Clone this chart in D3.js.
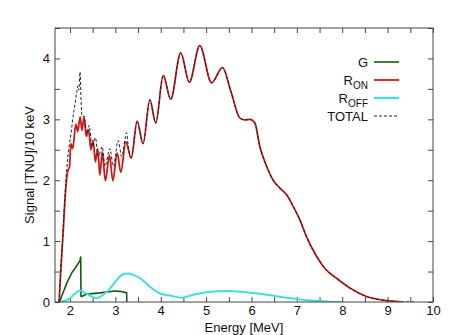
<!DOCTYPE html>
<html><head><meta charset="utf-8">
<script src="https://cdn.jsdelivr.net/npm/d3@7"></script>
<style>
body{margin:0;background:#fff;}
text{font-family:"Liberation Sans",Arial,Helvetica,sans-serif;}
</style></head>
<body><svg id="c" width="474" height="335"></svg>
<script>
// ---- data (energy MeV, signal TNU/10 keV) ----
const gE   = [1.769,1.84,1.93,2.04,2.11,2.22,2.236,2.243,2.26,2.37,2.66,2.99,3.15,3.249,3.252];
const gV   = [0,0.14,0.31,0.48,0.55,0.68,0.74,0.09,0.09,0.13,0.15,0.18,0.17,0.15,0];

const ronE = [1.76,1.80,1.85,1.89,1.93,1.96,1.99,2.02,2.06,2.13,2.17,2.225,2.265,2.31,2.36,2.41,2.46,2.51,2.56,2.61,2.66,2.71,2.78,2.87,2.945,3.04,3.12,3.23,3.35,3.48,3.61,3.76,3.89,4.055,4.22,4.44,4.63,4.86,5.12,5.36,5.55,5.745,5.86,5.965,6.075,6.185,6.333,6.478,6.626,6.774,6.919,7.066,7.214,7.434,7.617,7.875,8.168,8.536,8.9,9.12,9.3];
const ronV = [0,0.55,1.15,1.68,2.05,2.17,2.22,2.6,2.52,2.92,2.8,3.04,2.82,3.03,2.72,2.83,2.5,2.65,2.3,2.52,2.08,2.47,1.99,2.41,1.99,2.45,2.13,2.63,2.36,2.97,2.6,3.32,2.94,3.72,3.33,4.09,3.61,4.21,3.6,3.85,3.45,3.02,2.99,3.0,2.94,2.55,2.23,2.0,1.87,1.76,1.57,1.35,1.07,0.75,0.55,0.39,0.23,0.09,0.03,0.012,0];

const roffE = [1.78,2.0,2.11,2.221,2.331,2.478,2.588,2.734,2.881,3.029,3.174,3.285,3.47,3.652,3.762,3.983,4.24,4.461,4.716,5.011,5.452,5.893,6.333,6.774,7.214,7.655,8.0];
const roffV = [0,0.06,0.14,0.19,0.15,0.09,0.06,0.12,0.22,0.36,0.46,0.47,0.42,0.33,0.25,0.14,0.1,0.07,0.12,0.16,0.18,0.16,0.12,0.07,0.03,0.01,0];

const totE = [1.76,1.80,1.85,1.89,1.93,1.97,2.02,2.07,2.11,2.15,2.175,2.195,2.222,2.245,2.265,2.315,2.368,2.42,2.49,2.56,2.624,2.712,2.771,2.881,2.954,3.064,3.139,3.249,3.27,3.35,3.48,3.61,3.76,3.89,4.055,4.22,4.44,4.63,4.86,5.12,5.36,5.55,5.745,5.86,5.965,6.075,6.185,6.333,6.478,6.626,6.774,6.919,7.066,7.214,7.434,7.617,7.875,8.168,8.536,8.9,9.12,9.6];
const totV = [0,0.55,1.2,1.75,2.2,2.5,2.75,3.05,3.25,3.45,3.55,3.48,3.78,3.3,3.05,3.05,2.77,2.9,2.55,2.7,2.39,2.55,2.23,2.52,2.23,2.65,2.39,2.78,2.64,2.38,2.97,2.6,3.32,2.94,3.72,3.33,4.09,3.61,4.21,3.6,3.85,3.45,3.02,2.99,3.0,2.94,2.55,2.23,2.0,1.87,1.76,1.57,1.35,1.07,0.75,0.55,0.39,0.23,0.09,0.03,0.012,0];

const xTicks = [2,3,4,5,6,7,8,9,10];
const yTicks = [0,1,2,3,4];
const legendLabels = [["G",""],["R","ON"],["R","OFF"],["TOTAL",""]];
const colors = {g:"#145a14", ron:"#cc1a1a", roff:"#3fe0d8", tot:"#222"};

// ---- chart ----
const svg = d3.select("#c");
const L=55, R=433, T=28, B=302;
const x = d3.scaleLinear().domain([1.67,10]).range([L,R]);
const y = d3.scaleLinear().domain([0,4.5]).range([B,T]);
const halfX = d3.range(2,10.001,0.5);
const halfY = d3.range(0,4.501,0.5);
const fmt = d => Number.isInteger(d) && xTicks.includes(d) ? d : "";
const fmtY = d => yTicks.includes(d) ? d : "";

function styleAxis(g){
  g.select(".domain").remove();
  g.selectAll(".tick line").attr("stroke","#444");
  g.selectAll("text").attr("font-size",13).attr("fill","#111")
   .attr("font-family",'"Liberation Sans",Arial,sans-serif');
}
svg.append("g").attr("transform",`translate(0,${B})`)
  .call(d3.axisBottom(x).tickValues(halfX).tickSize(-5).tickPadding(4).tickFormat(fmt)).call(styleAxis);
svg.append("g").attr("transform",`translate(0,${T})`)
  .call(d3.axisTop(x).tickValues(halfX).tickSize(-5).tickFormat("")).call(styleAxis);
svg.append("g").attr("transform",`translate(${L},0)`)
  .call(d3.axisLeft(y).tickValues(halfY).tickSize(-5).tickPadding(5).tickFormat(fmtY)).call(styleAxis);
svg.append("g").attr("transform",`translate(${R},0)`)
  .call(d3.axisRight(y).tickValues(halfY).tickSize(-5).tickFormat("")).call(styleAxis);

const clip = svg.append("clipPath").attr("id","cp").append("rect")
  .attr("x",L).attr("y",T).attr("width",R-L).attr("height",B-T);
const plot = svg.append("g").attr("clip-path","url(#cp)");

function draw(E,V,color,w,curve,dash){
  const pts = E.map((e,i)=>[e,V[i]]);
  plot.append("path").datum(pts)
    .attr("d", d3.line().x(d=>x(d[0])).y(d=>y(d[1])).curve(curve))
    .attr("fill","none").attr("stroke",color).attr("stroke-width",w)
    .attr("stroke-dasharray",dash||null).attr("stroke-linejoin","round");
}
draw(gE,gV,colors.g,1.6,d3.curveLinear);
draw(ronE,ronV,colors.ron,1.8,d3.curveMonotoneX);
draw(roffE,roffV,colors.roff,2,d3.curveMonotoneX);
draw(totE,totV,colors.tot,1,d3.curveMonotoneX,"3,2");

svg.append("rect").attr("x",L).attr("y",T).attr("width",R-L).attr("height",B-T)
  .attr("fill","none").attr("stroke","#444").attr("stroke-width",1);

// legend
const lg = svg.append("g");
const lcols=[colors.g,colors.ron,colors.roff,colors.tot];
const lw=[1.6,1.8,2.2,1];
legendLabels.forEach((lab,i)=>{
  const yy = 62 + i*18;
  const t = lg.append("text").attr("x",368).attr("y",yy+4.5).attr("text-anchor","end")
    .attr("font-size",13).attr("fill","#111");
  t.append("tspan").text(lab[0]);
  if(lab[1]) t.append("tspan").attr("font-size",10).attr("dy",4).text(lab[1]);
  lg.append("line").attr("x1",374).attr("x2",399).attr("y1",yy).attr("y2",yy)
    .attr("stroke",lcols[i]).attr("stroke-width",lw[i]).attr("stroke-dasharray",i===3?"3,2":null);
});

// axis titles
svg.append("text").attr("x",(L+R)/2).attr("y",332).attr("text-anchor","middle")
  .attr("font-size",13).attr("fill","#111").text("Energy [MeV]");
svg.append("text").attr("transform",`translate(34,${(T+B)/2}) rotate(-90)`).attr("text-anchor","middle")
  .attr("font-size",13).attr("fill","#111").text("Signal [TNU]/10 keV");
</script></body></html>
